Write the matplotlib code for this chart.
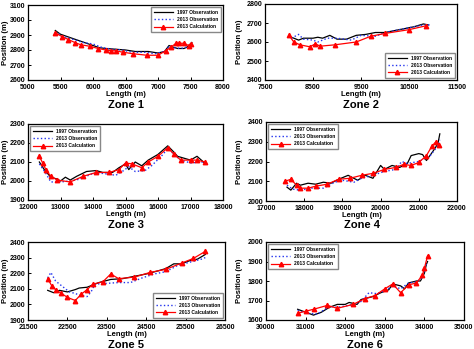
import matplotlib
matplotlib.use('Agg')
import matplotlib.pyplot as plt

plt.rcParams['font.family'] = ['Liberation Sans', 'DejaVu Sans']
plt.rcParams['font.weight'] = 'bold'

# zone 1
z1_obs97_x = [5420, 5500, 5600, 5700, 5800, 5900, 6000, 6100, 6200, 6350, 6500, 6650, 6850, 7000, 7100, 7170, 7230, 7300, 7400, 7450, 7520]
z1_obs97_y = [2930, 2905, 2890, 2875, 2860, 2845, 2830, 2815, 2810, 2805, 2800, 2790, 2790, 2780, 2790, 2830, 2820, 2810, 2810, 2820, 2850]
z1_obs13_x = [5420, 5550, 5700, 5850, 6000, 6150, 6300, 6450, 6600, 6800, 6950, 7100, 7170, 7250, 7350, 7450, 7500]
z1_obs13_y = [2920, 2890, 2870, 2850, 2840, 2815, 2805, 2800, 2785, 2785, 2775, 2790, 2825, 2815, 2810, 2820, 2840]
z1_calc_x = [5420, 5520, 5620, 5720, 5810, 5950, 6080, 6200, 6280, 6350, 6460, 6620, 6830, 7000, 7120, 7200, 7280, 7330, 7400, 7470, 7500]
z1_calc_y = [2915, 2890, 2870, 2850, 2835, 2825, 2810, 2800, 2795, 2795, 2785, 2775, 2765, 2765, 2795, 2820, 2845, 2845, 2845, 2830, 2840]

# zone 2
z2_obs97_x = [8000, 8100, 8200, 8300, 8500, 8600, 8700, 8850, 9000, 9200, 9400, 9600, 9800, 10000, 10200, 10400, 10600, 10800, 10900]
z2_obs97_y = [2630, 2620, 2610, 2620, 2620, 2625, 2620, 2635, 2615, 2615, 2635, 2640, 2650, 2650, 2660, 2670, 2680, 2695, 2690]
z2_obs13_x = [8050, 8200, 8300, 8500, 8600, 8800, 9000, 9300, 9500, 9800, 10000, 10400, 10800, 10950]
z2_obs13_y = [2620, 2640, 2615, 2610, 2600, 2620, 2620, 2610, 2635, 2630, 2650, 2670, 2690, 2690]
z2_calc_x = [8000, 8100, 8230, 8430, 8550, 8650, 8950, 9400, 9700, 10000, 10500, 10850]
z2_calc_y = [2635, 2600, 2585, 2575, 2590, 2578, 2585, 2600, 2630, 2645, 2665, 2685]

# zone 3
z3_obs97_x = [12350, 12500, 12700, 12900, 13000, 13150, 13300, 13500, 13800, 14100, 14300, 14600, 14800, 15000, 15100, 15300, 15500, 15700, 16000, 16300, 16500, 16600, 16800, 17000, 17200, 17400, 17450]
z3_obs97_y = [2100, 2060, 2020, 2010, 2000, 2020, 2005, 2025, 2050, 2055, 2045, 2045, 2070, 2090, 2060, 2100, 2080, 2110, 2140, 2185, 2150, 2130, 2120, 2110, 2130, 2100, 2090]
z3_obs13_x = [12350, 12550, 12700, 13000, 13300, 13600, 14000, 14300, 14700, 14900, 15100, 15300, 15600, 15800, 16100, 16300, 16500, 16700, 17000, 17400]
z3_obs13_y = [2090, 2040, 1995, 1995, 2000, 2010, 2040, 2040, 2030, 2050, 2075, 2050, 2055, 2080, 2130, 2170, 2140, 2110, 2095, 2100]
z3_calc_x = [12350, 12450, 12550, 12700, 12900, 13300, 13700, 14100, 14500, 14800, 15000, 15200, 15500, 15700, 16000, 16300, 16500, 16700, 17000, 17200, 17450]
z3_calc_y = [2130, 2095, 2060, 2025, 2005, 1995, 2025, 2045, 2045, 2060, 2095, 2090, 2070, 2100, 2130, 2175, 2140, 2110, 2110, 2110, 2100]

# zone 4
z4_obs97_x = [17550, 17650, 17800, 17900, 18100, 18300, 18500, 18700, 18900, 19150, 19400, 19600, 19800, 20000, 20100, 20300, 20500, 20700, 20800, 21000, 21100, 21200, 21400, 21500, 21550]
z4_obs97_y = [2070, 2055, 2090, 2080, 2090, 2085, 2095, 2090, 2110, 2130, 2105, 2130, 2115, 2180, 2160, 2180, 2170, 2190, 2230, 2240, 2235, 2205, 2260, 2290, 2340]
z4_obs13_x = [17550, 17700, 17900, 18200, 18500, 18800, 19000, 19300, 19500, 19800, 20100, 20400, 20550, 20700, 21000, 21300, 21500, 21550]
z4_obs13_y = [2080, 2060, 2055, 2065, 2065, 2095, 2105, 2095, 2115, 2130, 2150, 2160, 2200, 2190, 2200, 2230, 2280, 2310]
z4_calc_x = [17500, 17650, 17800, 17900, 18100, 18300, 18600, 18900, 19200, 19500, 19800, 20100, 20400, 20600, 20800, 21000, 21200, 21350, 21450, 21530]
z4_calc_y = [2100, 2110, 2080, 2065, 2065, 2075, 2085, 2110, 2115, 2130, 2140, 2160, 2170, 2185, 2180, 2195, 2230, 2280, 2300, 2285]

# zone 5
z5_obs97_x = [22000, 22150, 22300, 22500, 22700, 22800, 23000, 23100, 23300, 23600, 23900, 24200, 24500, 24800, 25000, 25200, 25400, 25600, 25800, 26000]
z5_obs97_y = [2090, 2075, 2090, 2080, 2095, 2105, 2110, 2120, 2140, 2160, 2165, 2180, 2195, 2215, 2230, 2260, 2260, 2280, 2290, 2320]
z5_obs13_x = [22000, 22080, 22200, 22400, 22550, 22700, 22800, 23000, 23100, 23200, 23500, 23800, 24100, 24400, 24700, 25000, 25300, 25600, 25900, 26000]
z5_obs13_y = [2170, 2205, 2150, 2110, 2080, 2070, 2060, 2050, 2080, 2130, 2135, 2140, 2140, 2170, 2195, 2210, 2250, 2270, 2290, 2300]
z5_calc_x = [22000, 22100, 22200, 22350, 22500, 22700, 22850, 23000, 23150, 23400, 23600, 23800, 24200, 24600, 25000, 25400, 25700, 26000]
z5_calc_y = [2165, 2120, 2095, 2070, 2045, 2025, 2065, 2095, 2130, 2145, 2195, 2165, 2175, 2205, 2225, 2265, 2295, 2340]

# zone 6
z6_obs97_x = [30800, 31000, 31200, 31400, 31600, 31800, 32000, 32100, 32300, 32400, 32700, 32900, 33100, 33200, 33400, 33500, 33600, 33800, 33900, 34000, 34050, 34080]
z6_obs97_y = [1655, 1640, 1625, 1640, 1665, 1680, 1680, 1690, 1680, 1705, 1720, 1740, 1755, 1785, 1775, 1760, 1790, 1800, 1800, 1840, 1885, 1900]
z6_obs13_x = [30800, 31000, 31300, 31600, 31800, 32100, 32400, 32600, 32800, 33000, 33200, 33400, 33600, 33800, 33950, 34050]
z6_obs13_y = [1650, 1635, 1630, 1670, 1665, 1675, 1695, 1740, 1735, 1750, 1775, 1760, 1790, 1795, 1820, 1890]
z6_calc_x = [30800, 31000, 31200, 31550, 31800, 32200, 32500, 32750, 33000, 33200, 33400, 33600, 33800, 33950, 34000, 34080]
z6_calc_y = [1635, 1645, 1655, 1675, 1660, 1680, 1710, 1725, 1760, 1785, 1740, 1780, 1790, 1830, 1865, 1930]

zones = [
    ('Zone 1', z1_obs97_x, z1_obs97_y, z1_obs13_x, z1_obs13_y, z1_calc_x, z1_calc_y,
     (5000, 8000, 500), (2600, 3100, 100), 'upper right'),
    ('Zone 2', z2_obs97_x, z2_obs97_y, z2_obs13_x, z2_obs13_y, z2_calc_x, z2_calc_y,
     (7500, 11500, 1000), (2400, 2800, 100), 'lower right'),
    ('Zone 3', z3_obs97_x, z3_obs97_y, z3_obs13_x, z3_obs13_y, z3_calc_x, z3_calc_y,
     (12000, 18000, 1000), (1900, 2300, 100), 'upper left'),
    ('Zone 4', z4_obs97_x, z4_obs97_y, z4_obs13_x, z4_obs13_y, z4_calc_x, z4_calc_y,
     (17000, 22000, 1000), (2000, 2400, 100), 'upper left'),
    ('Zone 5', z5_obs97_x, z5_obs97_y, z5_obs13_x, z5_obs13_y, z5_calc_x, z5_calc_y,
     (21500, 26500, 1000), (1900, 2400, 100), 'lower right'),
    ('Zone 6', z6_obs97_x, z6_obs97_y, z6_obs13_x, z6_obs13_y, z6_calc_x, z6_calc_y,
     (30000, 35000, 1000), (1600, 2000, 100), 'upper left'),
]

# axes boxes in pixels: left, top, right, bottom
boxes = [(28, 5, 223, 80), (265, 4, 457, 80),
         (28, 124, 223, 200), (266, 122, 457, 201),
         (28, 242, 225, 320), (266, 242, 464, 320)]
ylabel_right = [9, 243, 9, 243, 9, 243]

W, H = 474, 349
fig = plt.figure(figsize=(W / 100, H / 100), dpi=100)

for (name, x1, y1, x2, y2, x3, y3, xr, yr, loc), (l, t, r, b), yl in zip(zones, boxes, ylabel_right):
    ax = fig.add_axes([l / W, 1 - b / H, (r - l) / W, (b - t) / H])
    ax.plot(x1, y1, color='black', lw=0.9, label='1997 Observation')
    ax.plot(x2, y2, color='#2233ee', lw=1.0, ls=':', label='2013 Observation')
    ax.plot(x3, y3, color='red', lw=0.9, marker='^', ms=3.2, label='2013 Calculation')
    ax.set_xlim(xr[0], xr[1])
    ax.set_ylim(yr[0], yr[1])
    ax.set_xticks(range(xr[0], xr[1] + 1, xr[2]))
    ax.set_yticks(range(yr[0], yr[1] + 1, yr[2]))
    ax.tick_params(labelsize=5, length=2, width=0.7, pad=2, direction='in')
    ax.tick_params(axis='x', pad=3)
    for s in ax.spines.values():
        s.set_linewidth(0.9)
    ax.set_xlabel('Length (m)', fontsize=5.5, fontweight='bold')
    ax.xaxis.set_label_coords(0.5, -11 / (b - t))
    ax.set_ylabel('Position (m)', fontsize=5.5, fontweight='bold')
    ax.yaxis.set_label_coords((yl - l) / (r - l), 0.5)
    ax.legend(loc=loc, prop={'weight': 'bold', 'size': 3.5},
              fancybox=False, edgecolor='#888888', framealpha=1,
              handlelength=4, borderpad=0.5, labelspacing=0.45)
    ax.text(0.5, -24.5 / (b - t), name, transform=ax.transAxes, ha='center', va='center',
            fontsize=8, fontweight='bold')

fig.savefig('out.png', dpi=100)
